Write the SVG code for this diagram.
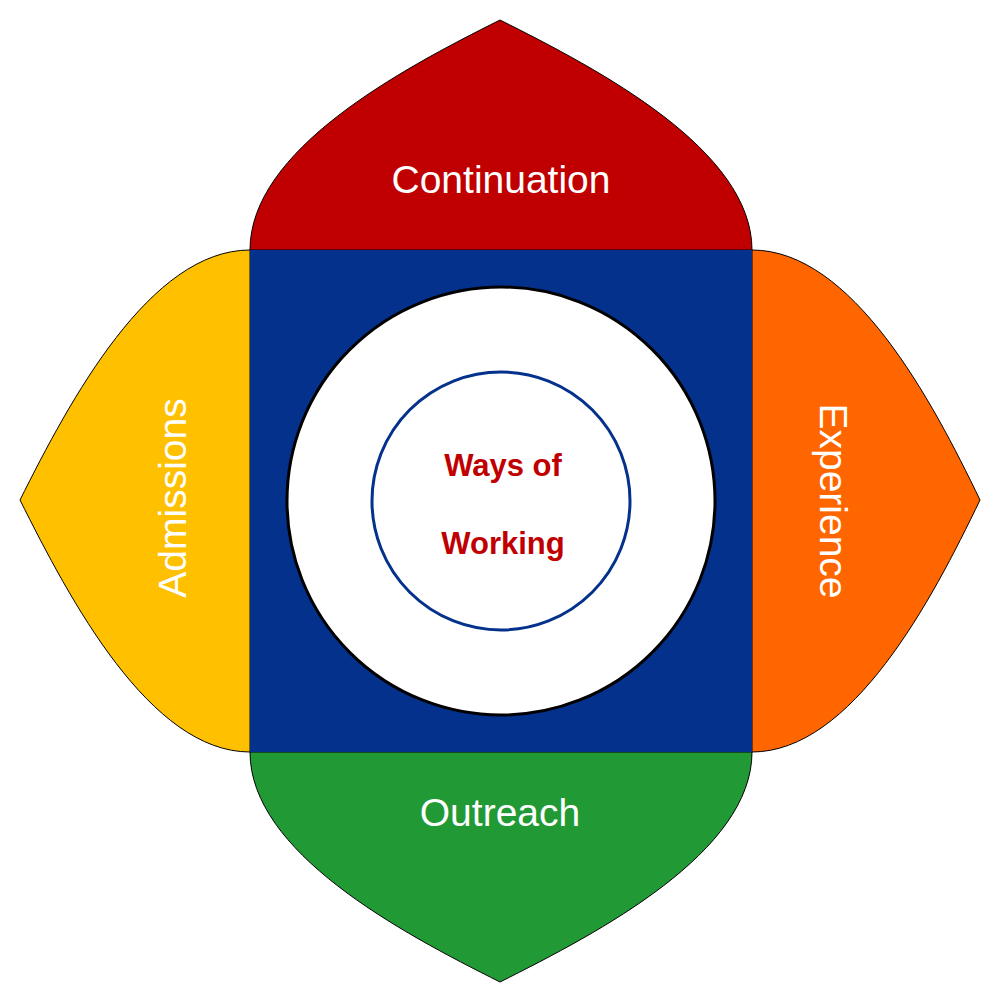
<svg xmlns="http://www.w3.org/2000/svg" width="1000" height="1002" viewBox="0 0 1000 1002">
<style>
.p{stroke:#000;stroke-width:1}
.lbl{font-family:"Liberation Sans",Arial,sans-serif;font-size:39px;fill:#fff;text-anchor:middle}
.c{font-family:"Liberation Sans",Arial,sans-serif;font-size:31px;font-weight:bold;fill:#c00000;text-anchor:middle}
</style>
<rect width="1000" height="1002" fill="#fff"/>
<g id="continuation"><path class="p" fill="#c00000" d="M250,250 C250,150 400,70 500,20 C600,70 752,150 752,250 Z"/><text class="lbl" x="501" y="193">Continuation</text></g>
<g id="outreach"><path class="p" fill="#219a35" d="M250,752 C250,852 400,932 500,982 C600,932 752,852 752,752 Z"/><text class="lbl" x="500" y="826">Outreach</text></g>
<g id="admissions"><path class="p" fill="#ffc000" d="M250,250 C150,250 70,400 20,500 C70,600 150,752 250,752 Z"/><text class="lbl" transform="translate(186,498) rotate(-90)">Admissions</text></g>
<g id="experience"><path class="p" fill="#ff6600" d="M752,250 C852,250 932,400 980,500 C932,600 852,752 752,752 Z"/><text class="lbl" transform="translate(820,501) rotate(90)">Experience</text></g>
<g id="square"><rect x="250" y="250" width="502" height="502" fill="#03318c"/></g>
<g id="outer"><circle cx="501" cy="501" r="214" fill="#fff" stroke="#000" stroke-width="3"/></g>
<g id="center"><circle cx="501" cy="501" r="129" fill="#fff" stroke="#03318c" stroke-width="3"/><text class="c" x="503" y="476">Ways of</text><text class="c" x="503" y="554">Working</text></g>
<g id="connectors"/>
</svg>
